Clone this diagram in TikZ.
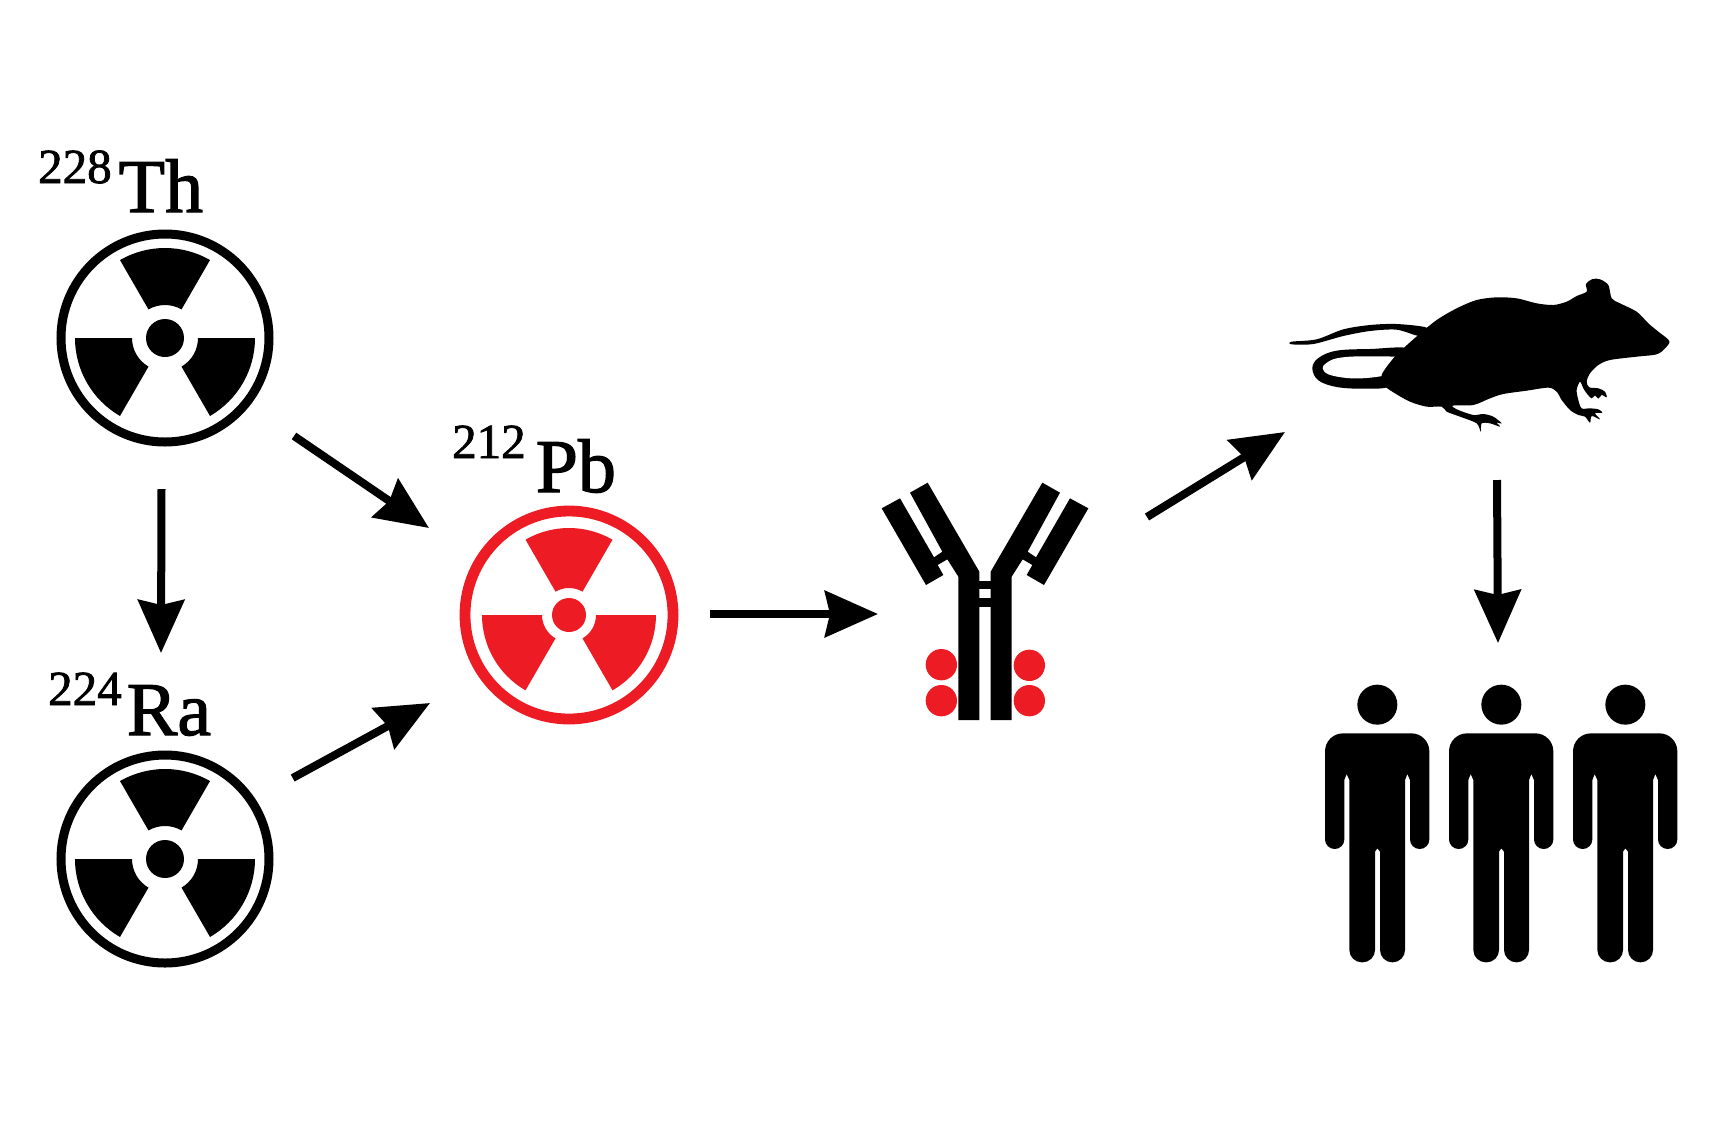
\documentclass[tikz,border=0pt]{standalone}
\usepackage{fontspec}
\setmainfont{Liberation Serif}[RawFeature={embolden=1.6}]
\usetikzlibrary{arrows.meta}
\definecolor{ra-red}{RGB}{237,28,36}
\newcommand{\iso}[3]{{\fontsize{49}{49}\selectfont\raisebox{#1pt}{#2}}#3}

\begin{document}
\begin{tikzpicture}[
  x=1pt, y=1pt,
  >=Stealth,
  ring/.style={circle, draw, line width=9pt, minimum size=208pt, inner sep=0pt, outer sep=0pt},
  figbox/.style={inner sep=0pt, outer sep=0pt},
  isotope/.style={anchor=base west, inner sep=0pt, font=\fontsize{76}{76}\selectfont},
  arrow/.style={-{Stealth[length=53pt, width=46pt, inset=5pt]}, line width=8pt},
]
\useasboundingbox (0,0) rectangle (1731,-1136);

% sources
\node[ring]                                (th) at (165,-338) {};
\node[ring]                                (ra) at (165,-859) {};
\node[ring, draw=ra-red, line width=10.8pt] (pb) at (569,-615) {};
\node[figbox, minimum width=208pt, minimum height=240pt] (ab) at (985,-590) {};
\node[figbox, minimum width=380pt, minimum height=170pt] (ms) at (1480,-385) {};
\node[figbox, minimum width=360pt, minimum height=285pt] (pp) at (1498,-825) {};

\foreach \n/\c/\ro/\ri/\rh in {th/black/90/33/19, ra/black/90/33/19, pb/ra-red/87/27/17} {
  \foreach \a in {0,120,240}
    \fill[\c, shift={(\n)}, rotate=\a] (0:\ri) -- (0:\ro)
      arc[start angle=0, end angle=-60, radius=\ro] -- (-60:\ri)
      arc[start angle=-60, end angle=0, radius=\ri] -- cycle;
  \fill[\c] (\n) circle (\rh);
}

\node[isotope] (thl) at (38,-212)  {\iso{29}{228}{\kern7pt Th}};
\node[isotope] (ral) at (48,-735)  {\iso{30}{224}{\kern5pt Ra}};
\node[isotope] (pbl) at (452,-492) {\iso{34}{212}{\kern10pt Pb}};

% antibody
\begin{scope}[shift={(860,-460)}, scale=1/3]
  \foreach \s in {1,-1}
    \fill[xshift=375, xscale=\s] (-80,-780) -- (-80,-350) -- (-113,-298) -- (-142,-315)
      -- (-125,-345) -- (-177,-375) -- (-310,-145) -- (-255,-115) -- (-153,-292)
      -- (-128,-275) -- (-225,-98) -- (-172,-68) -- (-17,-335) -- (-17,-780) -- cycle;
  \fill (358,-362) rectangle (393,-388);
  \fill (358,-415) rectangle (393,-440);
  \foreach \x/\y in {244/614, 244/722, 508/616, 508/722}
    \fill[ra-red] (\x,-\y) circle (47);
\end{scope}

% mouse
\begin{scope}[shift={(1270,-260)}, scale=1/3]
  \fill plot[smooth cycle, tension=.5] coordinates {(470,-203) (380,-192) (300,-195) (220,-208)
    (140,-238) (65,-245) (65,-253) (130,-252) (220,-228) (300,-213) (380,-209) (450,-228)};
  \fill plot[smooth cycle, tension=.6] coordinates {(420,-267) (300,-267) (200,-272) (145,-294)
    (127,-325) (145,-361) (200,-381) (280,-386) (360,-379) (400,-330)};
  \fill[white] plot[smooth cycle, tension=.6] coordinates {(400,-293) (270,-289) (200,-295) (168,-310)
    (158,-325) (175,-343) (230,-354) (290,-354) (360,-343) (420,-320)};
  \fill plot[smooth cycle, tension=.5] coordinates {(950,-95) (948,-72) (968,-57) (990,-58)
    (1015,-75) (1025,-115) (1050,-130) (1100,-155) (1135,-190) (1165,-215) (1198,-243) (1185,-265)
    (1160,-283) (1100,-290) (1020,-300) (985,-315) (960,-340) (950,-365) (958,-382) (985,-385)
    (1005,-395) (1010,-412) (995,-405) (985,-416) (975,-406) (965,-415) (950,-400) (940,-385)
    (930,-365) (920,-390) (925,-420) (935,-445) (960,-445) (985,-448) (997,-458) (975,-460)
    (990,-478) (965,-468) (960,-488) (945,-470) (925,-465) (900,-450) (875,-420) (860,-395)
    (835,-383) (770,-392) (700,-402) (660,-415) (610,-435) (548,-437) (565,-450) (610,-465)
    (640,-462) (670,-470) (695,-490) (680,-488) (690,-500) (660,-490) (635,-490) (632,-515)
    (620,-490) (570,-470) (530,-455) (515,-440) (470,-440) (420,-425) (375,-400) (345,-378)
    (335,-345) (370,-295) (400,-265) (445,-225) (500,-180) (560,-145) (620,-120) (680,-112)
    (740,-115) (800,-130) (850,-135) (890,-125) (920,-108)};
\end{scope}

% people
\foreach \px in {0,124,248} {
  \begin{scope}[shift={(1310+\px,-670)}, scale=1/3]
    \fill (202,-104) circle (60);
    \fill[rounded corners=18pt] (200,-190) -- (358,-190) -- (358,-300)
      [rounded corners=9.6pt] -- (358,-537) -- (300,-537) -- (300,-400)
      [sharp corners] -- (300,-330) -- (292,-312) -- (285,-330)
      [rounded corners=12.4pt] -- (285,-877) -- (210,-877) -- (210,-700)
      [sharp corners] -- (210,-545) -- (202,-535) -- (195,-545)
      [rounded corners=12.4pt] -- (195,-877) -- (118,-877) -- (118,-700)
      [sharp corners] -- (118,-330) -- (110,-312) -- (103,-330)
      [rounded corners=9.6pt] -- (103,-537) -- (45,-537) -- (45,-300)
      [rounded corners=18pt] -- (45,-190) -- cycle;
  \end{scope}
}

\foreach \a/\p/\b/\q in {th/{(129,-98)}/pb/{(-140,87)}, th/{(-3.5,-151)}/ra/{(-4,206)},
    ra/{(127.7,81)}/pb/{(-139,-88)}, pb/{(141,1)}/ab/{(-107,-24)},
    ab/{(162,73)}/ms/{(-195,-47)}, ms/{(17,-95)}/pp/{(0,182)}}
  \draw[arrow] ([shift=\p]\a.center) -- ([shift=\q]\b.center);
\end{tikzpicture}
\end{document}
